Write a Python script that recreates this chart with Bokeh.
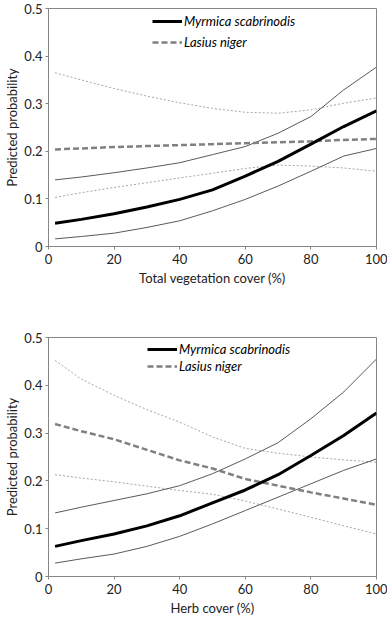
from bokeh.plotting import figure
from bokeh.models import Range1d, FixedTicker, Legend, LegendItem
from bokeh.layouts import column
from bokeh.embed import file_html
from bokeh.resources import INLINE

# ---------------- data ----------------
x_vals = [2, 10, 20, 30, 40, 50, 60, 70, 80, 90, 100]

# Panel 1: total vegetation cover
veg_myr = [0.049, 0.057, 0.069, 0.083, 0.099, 0.119, 0.148, 0.179, 0.215, 0.252, 0.285]
veg_myr_up = [0.140, 0.146, 0.155, 0.165, 0.176, 0.193, 0.210, 0.238, 0.273, 0.329, 0.377]
veg_myr_lo = [0.016, 0.021, 0.028, 0.040, 0.054, 0.075, 0.099, 0.127, 0.158, 0.190, 0.206]
veg_las = [0.204, 0.206, 0.209, 0.211, 0.213, 0.215, 0.217, 0.219, 0.221, 0.224, 0.226]
veg_las_up = [0.365, 0.350, 0.332, 0.316, 0.302, 0.290, 0.282, 0.280, 0.287, 0.301, 0.312]
veg_las_lo = [0.103, 0.113, 0.124, 0.134, 0.144, 0.154, 0.164, 0.171, 0.169, 0.165, 0.158]

# Panel 2: herb cover
herb_myr = [0.063, 0.075, 0.089, 0.106, 0.127, 0.154, 0.181, 0.213, 0.253, 0.295, 0.342]
herb_myr_up = [0.133, 0.145, 0.159, 0.173, 0.190, 0.215, 0.246, 0.280, 0.330, 0.386, 0.455]
herb_myr_lo = [0.028, 0.037, 0.047, 0.063, 0.084, 0.110, 0.138, 0.166, 0.194, 0.222, 0.246]
herb_las = [0.319, 0.304, 0.287, 0.265, 0.243, 0.226, 0.204, 0.190, 0.176, 0.163, 0.150]
herb_las_up = [0.452, 0.413, 0.379, 0.349, 0.323, 0.292, 0.268, 0.258, 0.250, 0.244, 0.239]
herb_las_lo = [0.213, 0.206, 0.198, 0.189, 0.180, 0.172, 0.158, 0.141, 0.124, 0.106, 0.089]

x_ticks = [0, 20, 40, 60, 80, 100]
y_ticks = [0, 0.1, 0.2, 0.3, 0.4, 0.5]
y_tick_labels = ["0", "0.1", "0.2", "0.3", "0.4", "0.5"]

series_names = ["Myrmica scabrinodis", "Lasius niger"]
x_titles = ["Total vegetation cover (%)", "Herb cover (%)"]

FONT = "Lato"
AX = "#868686"


def make_panel(height, border_top, border_bottom, xtitle, myr, myr_up, myr_lo,
               las, las_up, las_lo, legend_loc, legend_spacing):
    p = figure(width=387, height=height, output_backend="svg", toolbar_location=None,
               x_range=Range1d(0, 100), y_range=Range1d(0, 0.5),
               min_border_left=48, min_border_right=11,
               min_border_top=border_top, min_border_bottom=border_bottom)
    p.grid.visible = False
    p.outline_line_color = AX
    p.outline_line_width = 1
    p.background_fill_color = "white"
    p.border_fill_color = "white"

    # confidence lines
    p.line(x_vals, las_up, line_color="#a6a6a6", line_width=1, line_dash="2 2")
    p.line(x_vals, las_lo, line_color="#a6a6a6", line_width=1, line_dash="2 2")
    p.line(x_vals, myr_up, line_color="#5a5a5a", line_width=1)
    p.line(x_vals, myr_lo, line_color="#5a5a5a", line_width=1)
    # means
    r_las = p.line(x_vals, las, line_color="#808080", line_width=2.5, line_dash="6 3")
    r_myr = p.line(x_vals, myr, line_color="black", line_width=3)

    legend = Legend(items=[LegendItem(label=series_names[0], renderers=[r_myr]),
                           LegendItem(label=series_names[1], renderers=[r_las])],
                    location=legend_loc)
    legend.label_text_font = FONT
    legend.label_text_font_style = "italic"
    legend.label_text_font_size = "13px"
    legend.label_text_color = "black"
    legend.glyph_width = 30
    legend.glyph_height = 16
    legend.label_height = 16
    legend.label_standoff = 2
    legend.spacing = legend_spacing
    legend.padding = 0
    legend.margin = 0
    legend.border_line_color = None
    legend.background_fill_alpha = 0
    p.add_layout(legend)

    for ax in (p.xaxis[0], p.yaxis[0]):
        ax.axis_line_color = AX
        ax.major_tick_line_color = AX
        ax.minor_tick_line_color = None
        ax.major_tick_in = 0
        ax.major_tick_out = 3
        ax.major_label_text_font = FONT
        ax.major_label_text_font_size = "13px"
        ax.major_label_text_color = "#222222"
        ax.axis_label_text_font = FONT
        ax.axis_label_text_font_size = "13px"
        ax.axis_label_text_font_style = "normal"
        ax.axis_label_text_color = "#222222"
        ax.major_label_standoff = 4
        ax.axis_label_standoff = 3
    p.xaxis.ticker = FixedTicker(ticks=x_ticks)
    p.yaxis.ticker = FixedTicker(ticks=y_ticks)
    p.yaxis.major_label_overrides = {t: l for t, l in zip(y_ticks, y_tick_labels)}
    p.xaxis.axis_label = xtitle
    p.yaxis.axis_label = "Predicted probability"
    p.yaxis.axis_label_standoff = 1
    p.yaxis.major_label_standoff = 3
    return p


p1 = make_panel(300, 8, 54, x_titles[0], veg_myr, veg_myr_up, veg_myr_lo,
                veg_las, veg_las_up, veg_las_lo, (104, 196), 5)
p2 = make_panel(320, 37, 44, x_titles[1], herb_myr, herb_myr_up, herb_myr_lo,
                herb_las, herb_las_up, herb_las_lo, (99, 202), 1)

layout = column(p1, p2, spacing=0)
open("out.html", "w").write(file_html(layout, INLINE))
